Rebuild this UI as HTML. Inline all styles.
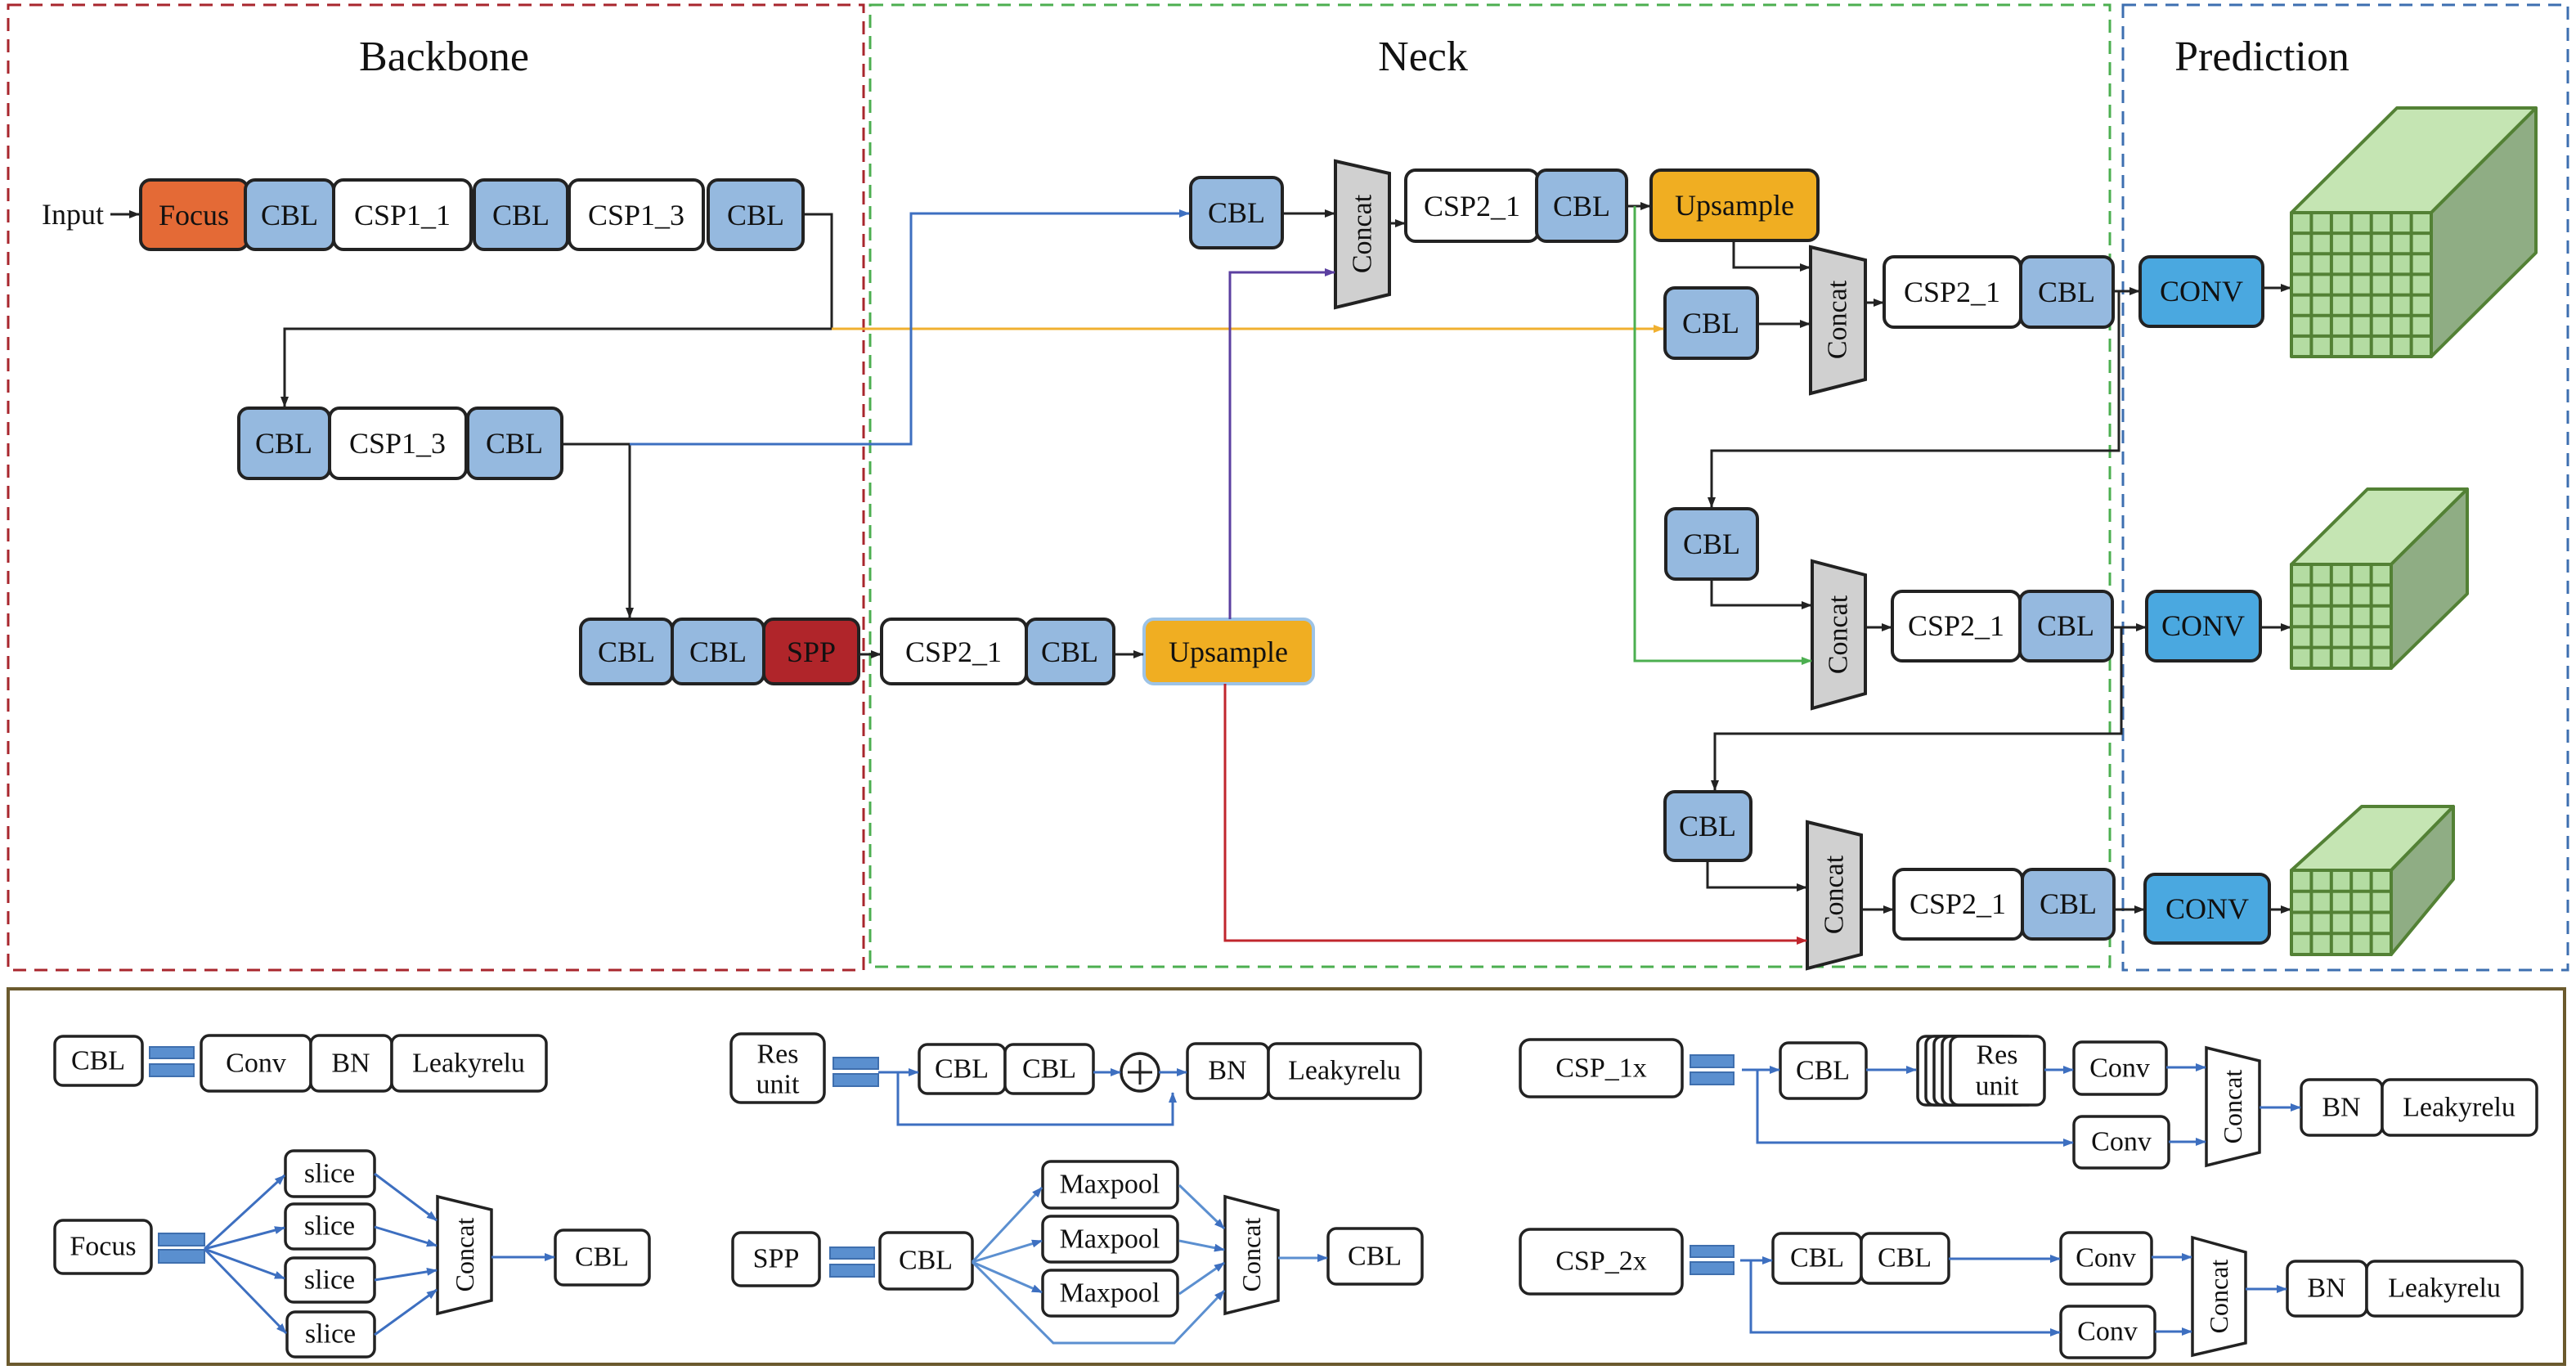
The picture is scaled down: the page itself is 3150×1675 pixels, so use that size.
<!DOCTYPE html>
<html><head><meta charset="utf-8"><style>
html,body{margin:0;padding:0;background:#fff;width:3150px;height:1675px;overflow:hidden;}
svg{display:block;}
svg text{font-family:"Liberation Serif",serif !important;fill:#111;}
</style></head><body>
<svg width="3150" height="1675" viewBox="0 0 3150 1675" xmlns="http://www.w3.org/2000/svg" font-family="Liberation Serif, serif">
<defs>
<marker id="ak" markerWidth="14" markerHeight="12" refX="12" refY="6" orient="auto" markerUnits="userSpaceOnUse"><path d="M0,1 L13,6 L0,11 Z" fill="#222"/></marker>
<marker id="ab" markerWidth="14" markerHeight="12" refX="12" refY="6" orient="auto" markerUnits="userSpaceOnUse"><path d="M0,1 L13,6 L0,11 Z" fill="#3d6fc0"/></marker>
<marker id="ao" markerWidth="14" markerHeight="12" refX="12" refY="6" orient="auto" markerUnits="userSpaceOnUse"><path d="M0,1 L13,6 L0,11 Z" fill="#f0b030"/></marker>
<marker id="ap" markerWidth="14" markerHeight="12" refX="12" refY="6" orient="auto" markerUnits="userSpaceOnUse"><path d="M0,1 L13,6 L0,11 Z" fill="#5b3fa0"/></marker>
<marker id="ag" markerWidth="14" markerHeight="12" refX="12" refY="6" orient="auto" markerUnits="userSpaceOnUse"><path d="M0,1 L13,6 L0,11 Z" fill="#4caf50"/></marker>
<marker id="ar" markerWidth="14" markerHeight="12" refX="12" refY="6" orient="auto" markerUnits="userSpaceOnUse"><path d="M0,1 L13,6 L0,11 Z" fill="#c0262d"/></marker>
</defs>

<rect x="10" y="6" width="1046" height="1180" fill="none" stroke="#a8262d" stroke-width="3" stroke-dasharray="16 10"/>
<rect x="1064" y="6" width="1516" height="1176" fill="none" stroke="#4caf50" stroke-width="3" stroke-dasharray="16 10"/>
<rect x="2596" y="6" width="544" height="1180" fill="none" stroke="#3d6fb0" stroke-width="3" stroke-dasharray="16 10"/>
<rect x="10" y="1209" width="3126" height="459" fill="none" stroke="#6b5a2e" stroke-width="4"/>

<text x="543" y="86" font-size="52" text-anchor="middle">Backbone</text>
<text x="1740" y="86" font-size="52" text-anchor="middle">Neck</text>
<text x="2766" y="86" font-size="52" text-anchor="middle">Prediction</text>

<g stroke="#222" stroke-width="4" font-size="36">
<rect x="172" y="220" width="131" height="85" rx="12" fill="#e46a36"/>
<rect x="300" y="220" width="108" height="85" rx="12" fill="#95b9df"/>
<rect x="408" y="220" width="168" height="85" rx="12" fill="#fff"/>
<rect x="580" y="220" width="114" height="85" rx="12" fill="#95b9df"/>
<rect x="696" y="220" width="164" height="85" rx="12" fill="#fff"/>
<rect x="866" y="220" width="116" height="85" rx="12" fill="#95b9df"/>
<rect x="292" y="499" width="111" height="86" rx="12" fill="#95b9df"/>
<rect x="403" y="499" width="167" height="86" rx="12" fill="#fff"/>
<rect x="572" y="499" width="115" height="86" rx="12" fill="#95b9df"/>
<rect x="710" y="757" width="112" height="79" rx="12" fill="#95b9df"/>
<rect x="822" y="757" width="112" height="79" rx="12" fill="#95b9df"/>
<rect x="934" y="757" width="116" height="79" rx="12" fill="#b0252a"/>
<rect x="1078" y="757" width="177" height="79" rx="12" fill="#fff"/>
<rect x="1255" y="757" width="107" height="79" rx="12" fill="#95b9df"/>
<rect x="1399" y="757" width="207" height="79" rx="12" fill="#f0ae22" stroke="#9dc3e6"/>
<rect x="1456" y="217" width="112" height="86" rx="12" fill="#95b9df"/>
<rect x="1719" y="208" width="162" height="87" rx="12" fill="#fff"/>
<rect x="1879" y="208" width="110" height="87" rx="12" fill="#95b9df"/>
<rect x="2019" y="208" width="204" height="86" rx="12" fill="#f0ae22"/>
<rect x="2036" y="352" width="113" height="86" rx="12" fill="#95b9df"/>
<rect x="2304" y="314" width="167" height="86" rx="12" fill="#fff"/>
<rect x="2471" y="314" width="113" height="86" rx="12" fill="#95b9df"/>
<rect x="2617" y="314" width="150" height="85" rx="12" fill="#4aa8e0"/>
<rect x="2037" y="622" width="112" height="86" rx="12" fill="#95b9df"/>
<rect x="2314" y="723" width="156" height="85" rx="12" fill="#fff"/>
<rect x="2470" y="723" width="113" height="85" rx="12" fill="#95b9df"/>
<rect x="2625" y="723" width="139" height="85" rx="12" fill="#4aa8e0"/>
<rect x="2036" y="968" width="105" height="84" rx="12" fill="#95b9df"/>
<rect x="2316" y="1063" width="157" height="85" rx="12" fill="#fff"/>
<rect x="2473" y="1063" width="112" height="85" rx="12" fill="#95b9df"/>
<rect x="2623" y="1069" width="152" height="84" rx="12" fill="#4aa8e0"/>
<polygon points="1633,197 1699,212 1699,360 1633,376" fill="#d0d0d0"/>
<polygon points="2214,302 2281,318 2281,464 2214,481" fill="#d0d0d0"/>
<polygon points="2216,686 2281,703 2281,848 2216,866" fill="#d0d0d0"/>
<polygon points="2210,1005 2276,1021 2276,1167 2210,1184" fill="#d0d0d0"/>
</g>

<g font-size="36" text-anchor="middle" dominant-baseline="central">
<text x="89" y="262">Input</text>
<text x="237" y="263">Focus</text>
<text x="354" y="263">CBL</text>
<text x="492" y="263">CSP1_1</text>
<text x="637" y="263">CBL</text>
<text x="778" y="263">CSP1_3</text>
<text x="924" y="263">CBL</text>
<text x="347" y="542">CBL</text>
<text x="486" y="542">CSP1_3</text>
<text x="629" y="542">CBL</text>
<text x="766" y="797">CBL</text>
<text x="878" y="797">CBL</text>
<text x="992" y="797">SPP</text>
<text x="1166" y="797">CSP2_1</text>
<text x="1308" y="797">CBL</text>
<text x="1502" y="797">Upsample</text>
<text x="1512" y="260">CBL</text>
<text x="1800" y="252">CSP2_1</text>
<text x="1934" y="252">CBL</text>
<text x="2121" y="251">Upsample</text>
<text x="2092" y="395">CBL</text>
<text x="2387" y="357">CSP2_1</text>
<text x="2527" y="357">CBL</text>
<text x="2692" y="356">CONV</text>
<text x="2093" y="665">CBL</text>
<text x="2392" y="765">CSP2_1</text>
<text x="2526" y="765">CBL</text>
<text x="2694" y="765">CONV</text>
<text x="2088" y="1010">CBL</text>
<text x="2394" y="1105">CSP2_1</text>
<text x="2529" y="1105">CBL</text>
<text x="2699" y="1111">CONV</text>
<g font-size="34">
<text transform="translate(1666,286) rotate(-90)">Concat</text>
<text transform="translate(2247,391) rotate(-90)">Concat</text>
<text transform="translate(2248,776) rotate(-90)">Concat</text>
<text transform="translate(2243,1094) rotate(-90)">Concat</text>
</g>
</g>

<g fill="none" stroke-width="3">
<path d="M135,262 H170" stroke="#222" marker-end="url(#ak)"/>
<path d="M982,262 H1017 V402 H348 V497" stroke="#222" marker-end="url(#ak)"/>
<path d="M1017,402 H2034" stroke="#f0b030" marker-end="url(#ao)"/>
<path d="M687,543 H770 V755" stroke="#222" marker-end="url(#ak)"/>
<path d="M770,543 H1114 V261 H1454" stroke="#3d6fc0" marker-end="url(#ab)"/>
<path d="M1050,800 H1077" stroke="#222" marker-end="url(#ak)"/>
<path d="M1362,800 H1398" stroke="#222" marker-end="url(#ak)"/>
<path d="M1504,757 V333 H1632" stroke="#5b3fa0" marker-end="url(#ap)"/>
<path d="M1498,836 V1150 H2209" stroke="#c0262d" marker-end="url(#ar)"/>
<path d="M1568,261 H1632" stroke="#222" marker-end="url(#ak)"/>
<path d="M1699,273 H1718" stroke="#222" marker-end="url(#ak)"/>
<path d="M1989,252 H2018" stroke="#222" marker-end="url(#ak)"/>
<path d="M1999,252 V808 H2215" stroke="#4caf50" marker-end="url(#ag)"/>
<path d="M2120,294 V327 H2213" stroke="#222" marker-end="url(#ak)"/>
<path d="M2149,396 H2213" stroke="#222" marker-end="url(#ak)"/>
<path d="M2281,370 H2303" stroke="#222" marker-end="url(#ak)"/>
<path d="M2584,356 H2616" stroke="#222" marker-end="url(#ak)"/>
<path d="M2591,356 V551 H2093 V620" stroke="#222" marker-end="url(#ak)"/>
<path d="M2767,352 H2801" stroke="#222" marker-end="url(#ak)"/>
<path d="M2093,708 V740 H2215" stroke="#222" marker-end="url(#ak)"/>
<path d="M2281,767 H2313" stroke="#222" marker-end="url(#ak)"/>
<path d="M2583,767 H2624" stroke="#222" marker-end="url(#ak)"/>
<path d="M2594,767 V897 H2097 V966" stroke="#222" marker-end="url(#ak)"/>
<path d="M2764,767 H2801" stroke="#222" marker-end="url(#ak)"/>
<path d="M2088,1052 V1085 H2209" stroke="#222" marker-end="url(#ak)"/>
<path d="M2276,1112 H2315" stroke="#222" marker-end="url(#ak)"/>
<path d="M2585,1112 H2622" stroke="#222" marker-end="url(#ak)"/>
<path d="M2775,1112 H2801" stroke="#222" marker-end="url(#ak)"/>
</g>

<g stroke="#538135" stroke-width="4" stroke-linejoin="round">
<polygon points="2802,260 2931,132 3101,132 2973,260" fill="#c5e5b3"/>
<polygon points="2973,260 3101,132 3101,309 2973,436" fill="#8fad84"/>
<rect x="2802" y="260" width="171" height="176" fill="#b4dca2"/>
<path d="M2826.4,260V436M2850.9,260V436M2875.3,260V436M2899.7,260V436M2924.1,260V436M2948.6,260V436M2802,285.1H2973M2802,310.3H2973M2802,335.4H2973M2802,360.6H2973M2802,385.7H2973M2802,410.9H2973" fill="none"/>
<polygon points="2802,690 2895,598 3017,598 2924,690" fill="#c5e5b3"/>
<polygon points="2924,690 3017,598 3017,726 2924,817" fill="#8fad84"/>
<rect x="2802" y="690" width="122" height="127" fill="#b4dca2"/>
<path d="M2826.4,690V817M2850.8,690V817M2875.2,690V817M2899.6,690V817M2802,715.4H2924M2802,740.8H2924M2802,766.2H2924M2802,791.6H2924" fill="none"/>
<polygon points="2802,1064 2888,986 3000,986 2924,1064" fill="#c5e5b3"/>
<polygon points="2924,1064 3000,986 3000,1075 2924,1167" fill="#8fad84"/>
<rect x="2802" y="1064" width="122" height="103" fill="#b4dca2"/>
<path d="M2826.4,1064V1167M2850.8,1064V1167M2875.2,1064V1167M2899.6,1064V1167M2802,1089.75H2924M2802,1115.5H2924M2802,1141.25H2924" fill="none"/>
</g>

<g stroke="#222" stroke-width="3.5" fill="#fff">
<rect x="67" y="1267" width="107" height="60" rx="10"/>
<rect x="246" y="1266" width="134" height="68" rx="10"/>
<rect x="380" y="1266" width="99" height="68" rx="10"/>
<rect x="479" y="1266" width="189" height="68" rx="10"/>
<rect x="67" y="1492" width="118" height="65" rx="10"/>
<rect x="349" y="1407" width="109" height="56" rx="10"/>
<rect x="349" y="1472" width="109" height="55" rx="10"/>
<rect x="349" y="1538" width="109" height="54" rx="10"/>
<rect x="351" y="1604" width="107" height="55" rx="10"/>
<polygon points="535,1463 601,1479 601,1590 535,1606"/>
<rect x="679" y="1504" width="115" height="67" rx="10"/>
<rect x="894" y="1264" width="114" height="84" rx="12"/>
<rect x="1124" y="1277" width="105" height="60" rx="10"/>
<rect x="1229" y="1277" width="108" height="60" rx="10"/>
<circle cx="1394" cy="1311" r="23"/>
<rect x="1452" y="1276" width="99" height="67" rx="10"/>
<rect x="1551" y="1276" width="186" height="67" rx="10"/>
<rect x="896" y="1507" width="106" height="65" rx="10"/>
<rect x="1076" y="1507" width="113" height="69" rx="10"/>
<rect x="1275" y="1420" width="165" height="57" rx="10"/>
<rect x="1275" y="1487" width="165" height="56" rx="10"/>
<rect x="1275" y="1553" width="165" height="56" rx="10"/>
<polygon points="1498,1463 1563,1480 1563,1590 1498,1606"/>
<rect x="1624" y="1502" width="115" height="68" rx="10"/>
<rect x="1859" y="1271" width="198" height="70" rx="12"/>
<rect x="2177" y="1275" width="105" height="68" rx="10"/>
<rect x="2345" y="1267" width="115" height="84" rx="10"/>
<rect x="2355" y="1267" width="115" height="84" rx="10"/>
<rect x="2365" y="1267" width="115" height="84" rx="10"/>
<rect x="2375" y="1267" width="115" height="84" rx="10"/>
<rect x="2385" y="1267" width="115" height="84" rx="10"/>
<rect x="2536" y="1274" width="113" height="64" rx="10"/>
<rect x="2536" y="1365" width="116" height="63" rx="10"/>
<polygon points="2698,1281 2763,1297 2763,1409 2698,1425"/>
<rect x="2814" y="1320" width="99" height="68" rx="10"/>
<rect x="2913" y="1320" width="189" height="68" rx="10"/>
<rect x="1859" y="1503" width="198" height="79" rx="12"/>
<rect x="2168" y="1508" width="108" height="61" rx="10"/>
<rect x="2276" y="1508" width="107" height="61" rx="10"/>
<rect x="2520" y="1507" width="111" height="63" rx="10"/>
<rect x="2520" y="1597" width="115" height="63" rx="10"/>
<polygon points="2681,1513 2746,1531 2746,1642 2681,1657"/>
<rect x="2797" y="1542" width="97" height="67" rx="10"/>
<rect x="2894" y="1542" width="190" height="67" rx="10"/>
</g>

<g fill="#5a8fcf" stroke="#3f6fae" stroke-width="2">
<rect x="183" y="1280" width="54" height="14"/><rect x="183" y="1301" width="54" height="15"/>
<rect x="194" y="1508" width="56" height="15"/><rect x="194" y="1528" width="56" height="16"/>
<rect x="1019" y="1293" width="55" height="14"/><rect x="1019" y="1313" width="55" height="15"/>
<rect x="1015" y="1525" width="54" height="14"/><rect x="1015" y="1546" width="54" height="15"/>
<rect x="2067" y="1290" width="53" height="15"/><rect x="2067" y="1311" width="53" height="15"/>
<rect x="2067" y="1523" width="53" height="14"/><rect x="2067" y="1543" width="53" height="15"/>
</g>

<g fill="none" stroke="#3d6fc0" stroke-width="3">
<path d="M250,1527 L348,1437" marker-end="url(#ab)"/>
<path d="M250,1527 L348,1501" marker-end="url(#ab)"/>
<path d="M250,1527 L348,1563" marker-end="url(#ab)"/>
<path d="M250,1527 L350,1630" marker-end="url(#ab)"/>
<path d="M458,1435 L534,1492" marker-end="url(#ab)"/>
<path d="M458,1500 L534,1523" marker-end="url(#ab)"/>
<path d="M458,1565 L534,1553" marker-end="url(#ab)"/>
<path d="M458,1632 L534,1577" marker-end="url(#ab)"/>
<path d="M601,1537 L678,1537" marker-end="url(#ab)"/>
<path d="M1074,1311 H1123" marker-end="url(#ab)"/>
<path d="M1098,1311 V1375 H1434 V1336" marker-end="url(#ab)"/>
<path d="M1337,1311 H1370" marker-end="url(#ab)"/>
<path d="M1417,1311 H1451" marker-end="url(#ab)"/>
</g>
<g fill="none" stroke="#5b8fd0" stroke-width="3">
<path d="M1189,1543 L1274,1452" marker-end="url(#ab)"/>
<path d="M1189,1543 L1274,1517" marker-end="url(#ab)"/>
<path d="M1189,1543 L1274,1580" marker-end="url(#ab)"/>
<path d="M1189,1543 L1288,1642 H1436 L1497,1578" marker-end="url(#ab)"/>
<path d="M1442,1449 L1497,1502" marker-end="url(#ab)"/>
<path d="M1442,1517 L1497,1528" marker-end="url(#ab)"/>
<path d="M1442,1582 L1497,1544" marker-end="url(#ab)"/>
<path d="M1563,1538 H1623" marker-end="url(#ab)"/>
</g>
<g fill="none" stroke="#3d6fc0" stroke-width="3">
<path d="M2130,1308 H2176" marker-end="url(#ab)"/>
<path d="M2149,1308 V1397 H2535" marker-end="url(#ab)"/>
<path d="M2282,1308 H2343" marker-end="url(#ab)"/>
<path d="M2500,1308 H2535" marker-end="url(#ab)"/>
<path d="M2649,1305 H2697" marker-end="url(#ab)"/>
<path d="M2652,1396 H2697" marker-end="url(#ab)"/>
<path d="M2763,1354 H2813" marker-end="url(#ab)"/>
<path d="M2128,1541 H2167" marker-end="url(#ab)"/>
<path d="M2141,1541 V1629 H2519" marker-end="url(#ab)"/>
<path d="M2383,1539 H2519" marker-end="url(#ab)"/>
<path d="M2631,1537 H2680" marker-end="url(#ab)"/>
<path d="M2635,1628 H2680" marker-end="url(#ab)"/>
<path d="M2746,1576 H2796" marker-end="url(#ab)"/>
</g>
<path d="M1394,1296 V1326 M1379,1311 H1409" stroke="#222" stroke-width="3"/>

<g font-size="34" text-anchor="middle" dominant-baseline="central">
<text x="120" y="1297">CBL</text>
<text x="313" y="1300">Conv</text>
<text x="429" y="1300">BN</text>
<text x="573" y="1300">Leakyrelu</text>
<text x="126" y="1524">Focus</text>
<text x="403" y="1435">slice</text>
<text x="403" y="1499">slice</text>
<text x="403" y="1565">slice</text>
<text x="404" y="1631">slice</text>
<text x="736" y="1537">CBL</text>
<text x="951" y="1289">Res</text>
<text x="951" y="1326">unit</text>
<text x="1176" y="1307">CBL</text>
<text x="1283" y="1307">CBL</text>
<text x="1501" y="1309">BN</text>
<text x="1644" y="1309">Leakyrelu</text>
<text x="949" y="1539">SPP</text>
<text x="1132" y="1541">CBL</text>
<text x="1357" y="1448">Maxpool</text>
<text x="1357" y="1515">Maxpool</text>
<text x="1357" y="1581">Maxpool</text>
<text x="1681" y="1536">CBL</text>
<text x="1958" y="1306">CSP_1x</text>
<text x="2229" y="1309">CBL</text>
<text x="2442" y="1290">Res</text>
<text x="2442" y="1328">unit</text>
<text x="2592" y="1306">Conv</text>
<text x="2594" y="1396">Conv</text>
<text x="2863" y="1354">BN</text>
<text x="3007" y="1354">Leakyrelu</text>
<text x="1958" y="1542">CSP_2x</text>
<text x="2222" y="1538">CBL</text>
<text x="2329" y="1538">CBL</text>
<text x="2575" y="1538">Conv</text>
<text x="2577" y="1628">Conv</text>
<text x="2845" y="1575">BN</text>
<text x="2989" y="1575">Leakyrelu</text>
<g font-size="32">
<text transform="translate(568,1534) rotate(-90)">Concat</text>
<text transform="translate(1530,1534) rotate(-90)">Concat</text>
<text transform="translate(2730,1353) rotate(-90)">Concat</text>
<text transform="translate(2713,1585) rotate(-90)">Concat</text>
</g>
</g>
</svg>
</body></html>
